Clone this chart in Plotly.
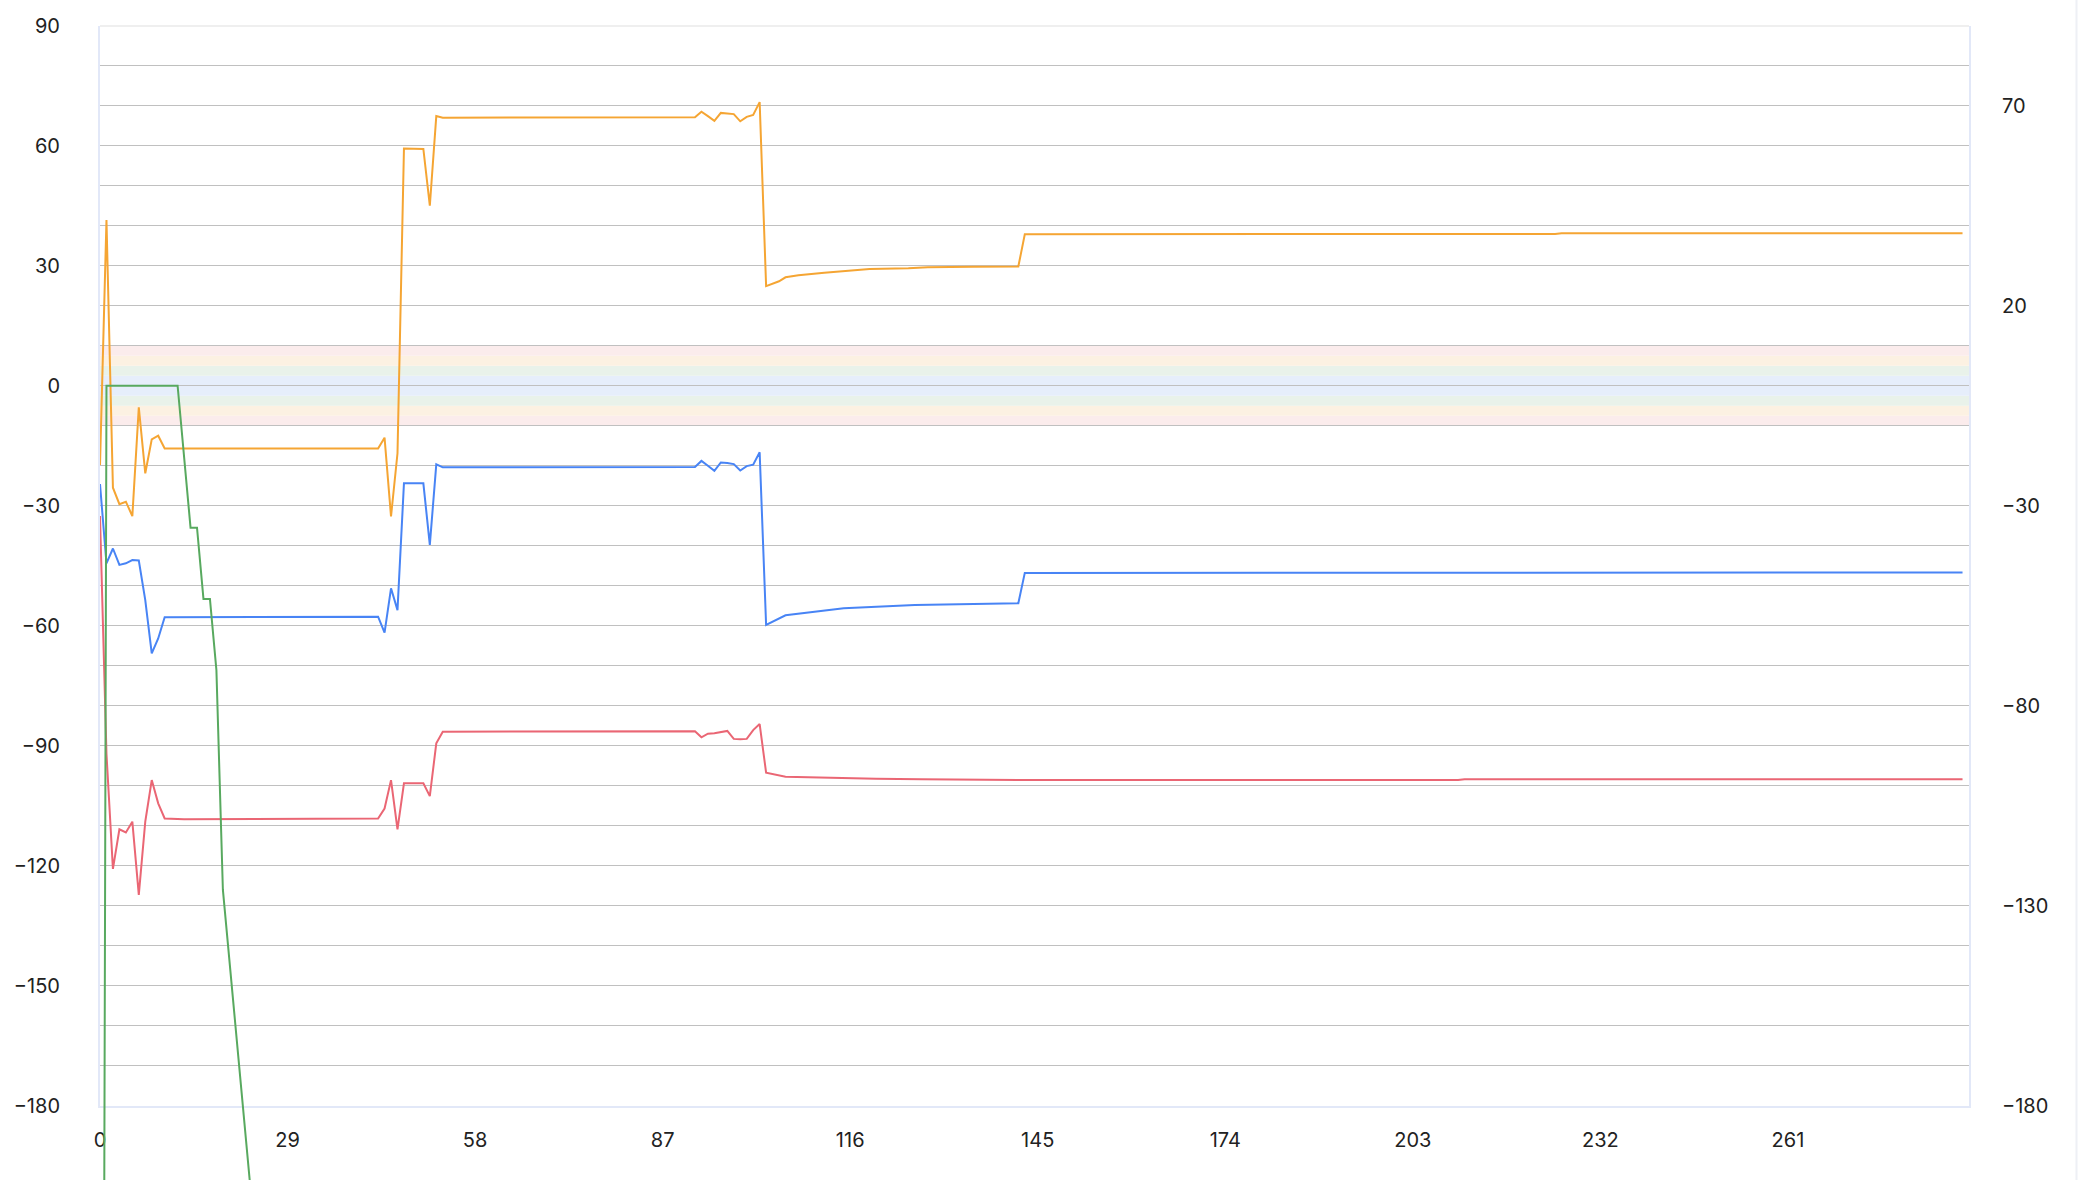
import plotly.graph_objects as go

# ---------------- data ----------------
x_tick_step = 29
x_max = 289

orange_x = [0, 1, 2, 3, 4, 5, 6, 7, 8, 9, 10, 43, 44, 45, 46, 47, 50, 51, 52, 53,
            92, 93, 94, 95, 96, 97, 98, 99, 100, 101, 102, 103, 104, 105, 106, 108,
            112, 116, 119, 125, 128, 135, 142, 143, 203, 204, 225, 226, 288]
orange_y = [-19.8, 41.4, -25.5, -29.6, -29.0, -32.6, -5.4, -21.9, -13.4, -12.5, -15.7,
            -15.7, -13.0, -32.7, -16.9, 59.3, 59.2, 45.0, 67.4, 67.0,
            67.1, 68.5, 67.4, 66.2, 68.2, 68.1, 67.9, 66.1, 67.2, 67.7, 70.9, 24.9,
            25.5, 26.1, 27.1, 27.6, 28.25, 28.75, 29.2, 29.35, 29.6, 29.75, 29.8,
            37.85, 37.85, 37.95, 37.95, 38.1, 38.1]

blue_x = [0, 1, 2, 3, 4, 5, 6, 7, 8, 9, 10, 43, 44, 45, 46, 47, 50, 51, 52, 53,
          92, 93, 94, 95, 96, 97, 98, 99, 100, 101, 102, 103, 106, 115, 126, 135,
          142, 143, 288]
blue_y = [-24.6, -44.4, -40.7, -44.8, -44.4, -43.6, -43.7, -53.6, -66.9, -63.2, -57.9,
          -57.75, -61.75, -50.65, -56.1, -24.4, -24.4, -39.8, -19.65, -20.4,
          -20.3, -18.8, -20.0, -21.3, -19.2, -19.3, -19.6, -21.2, -20.1, -19.75,
          -16.65, -59.8, -57.4, -55.65, -54.8, -54.5, -54.4, -46.8, -46.7]

red_x = [0, 1, 2, 3, 4, 5, 6, 7, 8, 9, 10, 13, 43, 44, 45, 46, 47, 50, 51, 52, 53,
         92, 93, 94, 95, 96, 97, 98, 99, 100, 101, 102, 103, 106, 112, 120, 127,
         143, 210, 211, 288]
red_y = [-32.6, -92.0, -120.8, -110.9, -111.7, -109.0, -127.3, -109.0, -98.6, -104.4,
         -108.2, -108.4, -108.2, -105.7, -98.6, -110.9, -99.4, -99.4, -102.6, -89.4,
         -86.5, -86.4, -87.9, -87.0, -86.9, -86.6, -86.3, -88.3, -88.4, -88.3, -86.1,
         -84.6, -96.75, -97.75, -98.0, -98.25, -98.4, -98.6, -98.6, -98.4, -98.4]

green_x = [0, 1, 12, 14, 15, 16, 17, 18, 19, 20, 21, 22, 23, 24]
green_y = [-590.0, 0.0, 0.0, -35.5, -35.5, -53.3, -53.3, -71.1, -126.0, -143.5,
           -161.0, -178.5, -196.0, -213.5]

left_tick0, left_dtick = 0, 30
right_tick0, right_dtick = -180, 50
y_min, y_max = -180, 90

band_edges = [-10, -7.5, -5, -2.5, 2.5, 5, 7.5, 10]

# ---------------- styling ----------------
W, H = 2078, 1180
PLOT_L, PLOT_R = 100, 1969
PLOT_T, PLOT_B = 25.7, 1105.7

ORANGE = "#f5a533"
BLUE = "#4884f5"
RED = "#ea6674"
GREEN = "#58a95f"
GRID = "#c0c0c0"
BORDER = "#e2e8f8"
band_colors = ["#fbecec", "#fcf1e2", "#e9f2ea", "#e6eefb", "#e9f2ea", "#fcf1e2", "#fbecec"]

FONT = dict(family="Inter, 'Noto Sans', sans-serif", size=20, color="#222222")

px_per_unit = (PLOT_B - PLOT_T) / (y_max - y_min)
dom0 = 1 - PLOT_B / H
dom1 = 1 - PLOT_T / H
full_top = y_max + PLOT_T / px_per_unit
full_bot = y_min - (H - PLOT_B) / px_per_unit

fig = go.Figure()

line_w = 2
fig.add_trace(go.Scatter(x=red_x, y=red_y, mode="lines", line=dict(color=RED, width=line_w),
                         xaxis="x", yaxis="y", hoverinfo="skip"))
fig.add_trace(go.Scatter(x=blue_x, y=blue_y, mode="lines", line=dict(color=BLUE, width=line_w),
                         xaxis="x", yaxis="y", hoverinfo="skip"))
fig.add_trace(go.Scatter(x=orange_x, y=orange_y, mode="lines", line=dict(color=ORANGE, width=line_w),
                         xaxis="x", yaxis="y", hoverinfo="skip"))
# green runs below the plot area in the reference, so it lives on a full-height overlay subplot
fig.add_trace(go.Scatter(x=green_x, y=green_y, mode="lines", line=dict(color=GREEN, width=line_w),
                         xaxis="x2", yaxis="y3", hoverinfo="skip"))
# invisible trace to activate right axis
fig.add_trace(go.Scatter(x=[None], y=[None], xaxis="x", yaxis="y2", showlegend=False, hoverinfo="skip"))

shapes = []
for i in range(len(band_edges) - 1):
    shapes.append(dict(type="rect", xref="x domain", yref="y", x0=0, x1=1,
                       y0=band_edges[i], y1=band_edges[i + 1],
                       fillcolor=band_colors[i], line=dict(width=0), layer="below"))
# top gridline at the upper edge of the plot
shapes.append(dict(type="line", xref="x domain", yref="y", x0=0, x1=1, y0=y_max, y1=y_max,
                   line=dict(color=GRID, width=1.3), layer="below"))
# page edge line at far right
edge_x = (2076.5 - PLOT_L) / (PLOT_R - PLOT_L)
shapes.append(dict(type="line", xref="paper", yref="paper", x0=edge_x, x1=edge_x,
                   y0=0, y1=1, line=dict(color="#eef0f5", width=2)))

fig.update_layout(
    width=W, height=H,
    margin=dict(l=PLOT_L, r=W - PLOT_R, t=0, b=0, pad=0, autoexpand=False),
    paper_bgcolor="white", plot_bgcolor="rgba(0,0,0,0)",
    showlegend=False,
    font=FONT,
    shapes=shapes,
    xaxis=dict(domain=[0, 1], range=[0, x_max], anchor="y", automargin=False,
               tickmode="linear", tick0=0, dtick=x_tick_step,
               showgrid=False, zeroline=False,
               showline=True, linecolor=BORDER, linewidth=2,
               ticks="", ticklabelstandoff=15, tickfont=FONT),
    yaxis=dict(domain=[dom0, dom1], range=[y_min, y_max], anchor="x", automargin=False,
               tickmode="linear", tick0=left_tick0, dtick=left_dtick,
               showgrid=True, gridcolor=GRID, gridwidth=1.3,
               minor=dict(dtick=10, tick0=0, showgrid=True, gridcolor=GRID, gridwidth=1.3),
               zeroline=False, showline=True, linecolor=BORDER, linewidth=2, mirror=True,
               ticks="", ticklabelstandoff=34, tickfont=FONT),
    yaxis2=dict(overlaying="y", side="right", range=[y_min, y_max], anchor="x", automargin=False,
                tickmode="linear", tick0=right_tick0, dtick=right_dtick,
                showgrid=False, zeroline=False, showline=False,
                ticks="", ticklabelstandoff=32, tickfont=FONT),
    xaxis2=dict(domain=[0, 1], range=[0, x_max], anchor="y3", visible=False, matches="x"),
    yaxis3=dict(domain=[0, 1], range=[full_bot, full_top], anchor="x2", visible=False),
)

fig.write_html("out.html",
               config={"displayModeBar": False, "staticPlot": True},
               post_script="document.body.style.margin='0';document.body.style.overflow='hidden';")
